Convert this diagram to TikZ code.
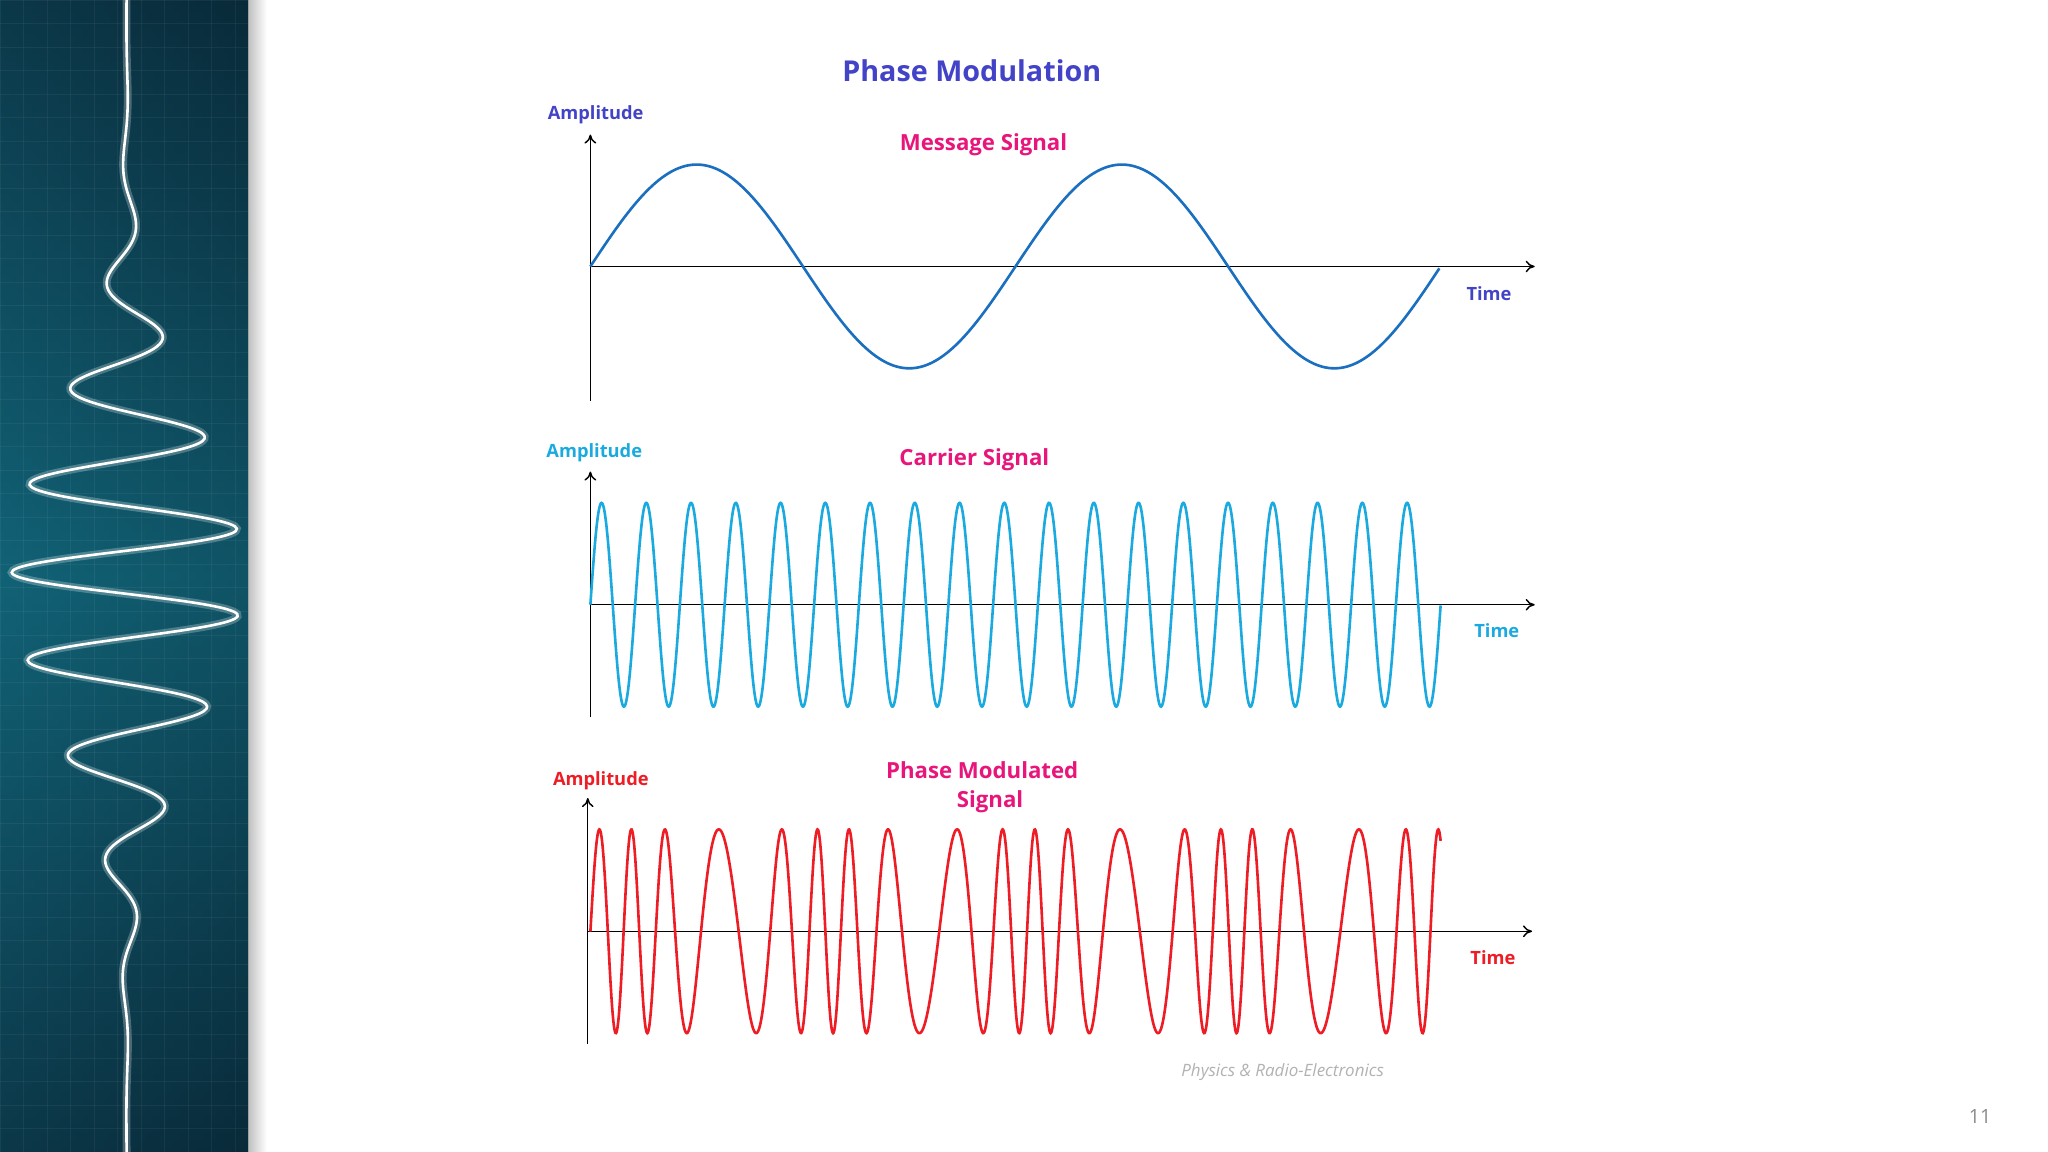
\documentclass[tikz,border=0pt]{standalone}
\usepackage{fontspec}
\setmainfont{Open Sans}
\usetikzlibrary{arrows.meta}
\definecolor{ttl}{HTML}{4343C8}
\definecolor{pinkc}{HTML}{E8157A}
\definecolor{msg}{HTML}{1A6FC0}
\definecolor{car}{HTML}{1BAAE0}
\definecolor{pm}{HTML}{EE1C24}
\tikzset{
  axis/.style={line width=1.1pt,-{To[length=7pt,width=9pt]}},
  lbl/.style={font=\fontsize{14}{16}\selectfont\bfseries,inner sep=0pt},
  ttlbl/.style={font=\fontsize{17}{22}\selectfont\bfseries,inner sep=0pt,text=pinkc,align=center},
  wave/.style={line width=2pt}
}
\begin{document}
\begin{tikzpicture}[x=1pt,y=-1pt]
\useasboundingbox (0,0) rectangle (1568,882);
\fill[white] (0,0) rectangle (1568,882);
% left panel
\shade[left color=black!25!white,right color=white] (190,0) rectangle (204,882);
\shade[left color={rgb,255:red,14;green,80;blue,100},right color={rgb,255:red,8;green,45;blue,60}] (0,0) rectangle (190,882);
\shade[top color={rgb,255:red,10;green,40;blue,55},bottom color={rgb,255:red,10;green,40;blue,55},middle color={rgb,255:red,20;green,110;blue,130},opacity=0.6] (0,0) rectangle (190,882);
\foreach \g in {0,18,...,882} \draw[white,opacity=0.05] (0,\g) -- (190,\g);
\foreach \g in {0,18,...,190} \draw[white,opacity=0.05] (\g,0) -- (\g,882);
\foreach \w/\o in {6pt/0.25,2pt/1}
\draw[white,opacity=\o,line width=\w] plot[domain=0:882,samples=500,smooth] ({97+88*exp(-((\x-440)/170)^2)*sin(5.5*\x-0.003*(\x-440)*abs(\x-440)+20)},\x);
% title
\node[font=\fontsize{22}{26}\selectfont\bfseries,text=ttl] (title) at (744,54) {Phase Modulation};
% message
\coordinate (o1) at (452,204);
\coordinate (y1) at (452,103); \coordinate (yb1) at (452,307); \coordinate (x1) at (1175,204);
\draw[axis] (yb1) -- (y1);
\draw[axis] (o1) -- (x1);
\draw[msg,wave] plot[domain=0:1,samples=400,smooth] ({452+651*\x},{204-78*sin(720*\x)});
\node[lbl,text=ttl] (a1) at (456,88) {Amplitude};
\node[lbl,text=ttl] (t1) at (1140,225) {Time};
\node[ttlbl] (m1) at (753,111) {Message Signal};
% carrier
\coordinate (o2) at (452,463);
\coordinate (y2) at (452,361); \coordinate (yb2) at (452,549); \coordinate (x2) at (1175,463);
\draw[axis] (yb2) -- (y2);
\draw[axis] (o2) -- (x2);
\draw[car,wave] plot[domain=0:1,samples=1500,smooth] ({452+651*\x},{463-78*sin(6840*\x)});
\node[lbl,text=car] (a2) at (455,347) {Amplitude};
\node[lbl,text=car] (t2) at (1146,483) {Time};
\node[ttlbl] (m2) at (746,352) {Carrier Signal};
% PM
\coordinate (o3) at (450,713);
\coordinate (y3) at (450,611); \coordinate (yb3) at (450,799); \coordinate (x3) at (1173,713);
\draw[axis] (yb3) -- (y3);
\draw[axis] (o3) -- (x3);
\draw[pm,wave] plot[domain=0:1,samples=1500,smooth] ({452+651*\x},{713-78*sin(6840*\x+115*sin(1512*\x-65)+104)});
\node[lbl,text=pm] (a3) at (460,598) {Amplitude};
\node[lbl,text=pm] (t3) at (1143,733) {Time};
\node[ttlbl] (m3) at (752,603) {Phase Modulated\\\hspace*{12pt}Signal};
% footer
\node[font=\fontsize{13}{15}\selectfont\itshape,text=black!30] (wm) at (982,821) {Physics \& Radio-Electronics};
\node[font=\fontsize{15}{17}\selectfont,text=black!45] (pg) at (1516,855) {11};
\end{tikzpicture}
\end{document}
